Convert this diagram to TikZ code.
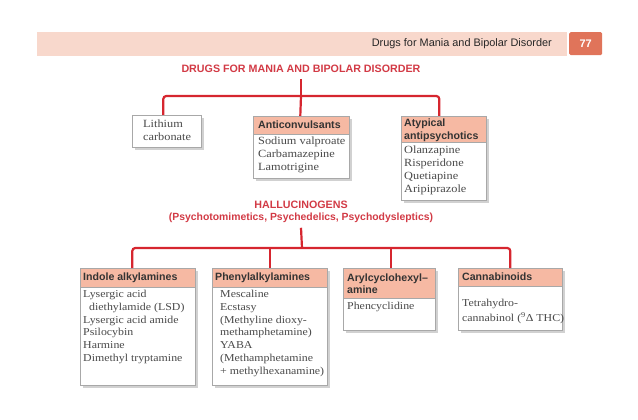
\documentclass[tikz,border=0pt]{standalone}
\usepackage{fontspec}
\setmainfont{Liberation Serif}
\newfontfamily\arial{Liberation Sans}
\newfontfamily\pal[FakeStretch=1.12]{Liberation Serif}
\usetikzlibrary{shadows,calc}
\definecolor{band}{HTML}{F8D8CC}
\definecolor{pagebox}{HTML}{E0745A}
\definecolor{hdr}{HTML}{F6B9A3}
\definecolor{redline}{HTML}{D6262F}
\definecolor{redtext}{HTML}{D23A45}
\definecolor{itemtext}{HTML}{4A4A4A}
\definecolor{boxline}{HTML}{A8A8A8}
\tikzset{
  link/.style={draw=redline, line width=2.2pt, rounded corners=3pt},
  boxnode/.style={draw=boxline, line width=0.6pt, fill=white, anchor=north west, inner sep=0pt,
     drop shadow={shadow xshift=2.5pt, shadow yshift=-2.5pt, fill=black!30, opacity=0.6}},
  hdrnode/.style={draw=boxline, line width=0.6pt, fill=hdr, anchor=north west, inner sep=0pt},
  hdrtext/.style={anchor=west, inner sep=0pt, font=\arial\bfseries\fontsize{10.6}{12}\selectfont, text=black!80, align=left},
  itemtext/.style={anchor=north west, inner sep=0pt, font=\pal\fontsize{11}{12.9}\selectfont, text=itemtext, align=left},
  itemtextb/.style={anchor=north west, inner sep=0pt, font=\pal\fontsize{10.6}{12.8}\selectfont, text=itemtext, align=left},
  titletext/.style={inner sep=0pt, font=\arial\bfseries\fontsize{10.7}{11.5}\selectfont, text=redtext, align=center},
}
\begin{document}
\begin{tikzpicture}[x=1pt,y=-1pt]
\useasboundingbox (0,0) rectangle (638,420);
% header band
\fill[band] (37,32) rectangle (567,56);
\node[anchor=east, inner sep=0pt, font=\arial\fontsize{10.9}{12}\selectfont, text=black!85] (runhead) at (552,44) {Drugs for Mania and Bipolar Disorder};
\node[fill=pagebox, rounded corners=1.5pt, minimum width=33pt, minimum height=23pt, inner sep=0pt, anchor=north west, font=\arial\bfseries\fontsize{11}{12}\selectfont, text=white] (pagenum) at (569,32) {77};

% ---- top tree ----
\node[titletext] (title) at (301,69) {DRUGS FOR MANIA AND BIPOLAR DISORDER};
\coordinate (tj) at (301,96);

\node[boxnode, minimum width=69pt, minimum height=32pt] (lith) at (132,115) {};
\node[itemtext, font=\pal\fontsize{11}{13}\selectfont] (lithtxt) at (143,120) {Lithium\\carbonate};

\node[boxnode, minimum width=96pt, minimum height=62pt] (anti) at (253,116) {};
\node[hdrnode, minimum width=96pt, minimum height=18pt] (antih) at (253,116) {};
\node[hdrtext] (antiht) at (258,125) {Anticonvulsants};
\node[itemtext] (antiit) at (258,137) {Sodium valproate\\Carbamazepine\\Lamotrigine};

\node[boxnode, minimum width=85pt, minimum height=84pt] (aty) at (401,116) {};
\node[hdrnode, minimum width=85pt, minimum height=26pt] (atyh) at (401,116) {};
\node[hdrtext, font=\arial\bfseries\fontsize{10.6}{12.8}\selectfont] (atyht) at (404,130) {Atypical\\antipsychotics};
\node[itemtext] (atyit) at (404,146) {Olanzapine\\Risperidone\\Quetiapine\\Aripiprazole};

\draw[link] ([yshift=-6pt]title.south) -- (tj);
\draw[link] ([xshift=-3.5pt]lith.north) |- (tj) -| ([xshift=-4.5pt]aty.north);
\draw[link] (tj) -- ([xshift=-1pt]anti.north);

% ---- bottom tree ----
\node[titletext] (hall) at (301,212) {HALLUCINOGENS\\{\fontsize{10.4}{11.5}\selectfont(Psychotomimetics, Psychedelics, Psychodysleptics)}};
\coordinate (bj) at (302,248);

\node[boxnode, minimum width=115pt, minimum height=117pt] (ind) at (80,268) {};
\node[hdrnode, minimum width=115pt, minimum height=19pt] (indh) at (80,268) {};
\node[hdrtext] (indht) at (83,278) {Indole alkylamines};
\node[itemtextb] (indit) at (83,290) {Lysergic acid\\\hspace*{6pt}diethylamide (LSD)\\Lysergic acid amide\\Psilocybin\\Harmine\\Dimethyl tryptamine};

\node[boxnode, minimum width=115pt, minimum height=117pt] (phe) at (212,268) {};
\node[hdrnode, minimum width=115pt, minimum height=19pt] (pheh) at (212,268) {};
\node[hdrtext] (pheht) at (215,278) {Phenylalkylamines};
\node[itemtextb] (pheit) at (220,290) {Mescaline\\Ecstasy\\(Methyline dioxy-\\methamphetamine)\\YABA\\(Methamphetamine\\+ methylhexanamine)};

\node[boxnode, minimum width=92pt, minimum height=62pt] (ary) at (343,268) {};
\node[hdrnode, minimum width=92pt, minimum height=30pt] (aryh) at (343,268) {};
\node[hdrtext, font=\arial\bfseries\fontsize{10.6}{12}\selectfont] (aryht) at (347,284) {Arylcyclohexyl–\\amine};
\node[itemtextb] (aryit) at (347,302) {Phencyclidine};

\node[boxnode, minimum width=104pt, minimum height=62pt] (can) at (458,268) {};
\node[hdrnode, minimum width=104pt, minimum height=18pt] (canh) at (458,268) {};
\node[hdrtext] (canht) at (462,277) {Cannabinoids};
\node[itemtext, font=\pal\fontsize{10.6}{14.5}\selectfont] (canit) at (462,299) {Tetrahydro-\\cannabinol (\textsuperscript{9}Δ THC)};

\draw[link] ([yshift=-5pt]hall.south) -- (bj);
\draw[link] ([xshift=-5.5pt]ind.north) |- (bj) -| (can.north);
\draw[link] (phe.north) -- (phe.north |- bj);
\draw[link] ([xshift=2pt]ary.north) -- ([xshift=2pt]ary.north |- bj);
\end{tikzpicture}
\end{document}
